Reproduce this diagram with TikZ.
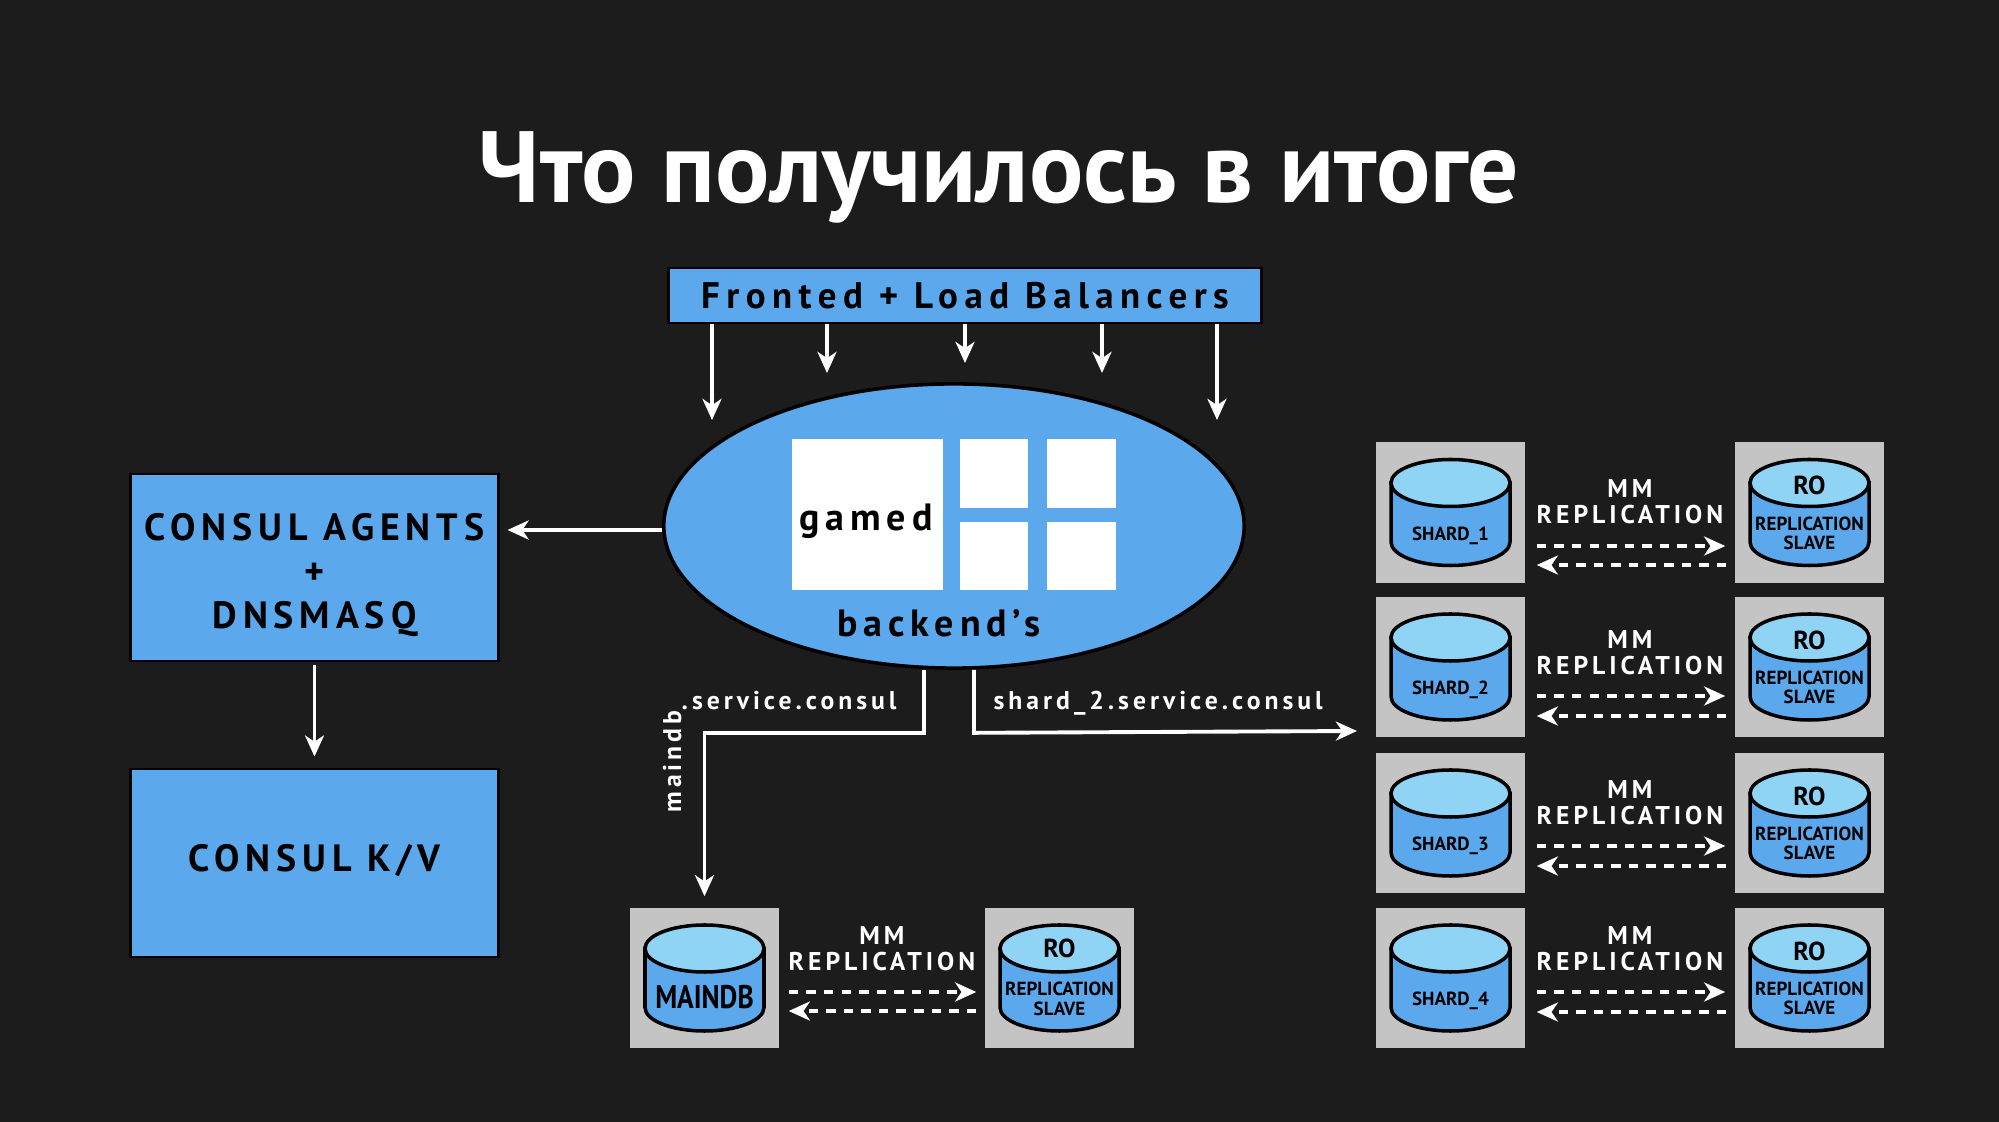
\documentclass[tikz,border=0pt]{standalone}
\usepackage{fontspec}
\setmainfont{PT Sans}
\newfontfamily\spaced{PT Sans}[LetterSpace=15.5]
\newfontfamily\wide{PT Sans}[LetterSpace=17.5]
\newfontfamily\narrow{PT Sans}[FakeStretch=0.84]
\usetikzlibrary{arrows.meta,shapes.geometric,positioning}
\definecolor{bgdark}{HTML}{1C1C1C}
\definecolor{boxblue}{HTML}{5BA8EC}
\definecolor{cyltop}{HTML}{8FD4F5}
\definecolor{boxgray}{HTML}{C4C4C4}

\begin{document}
\begin{tikzpicture}[x=0.01cm,y=-0.01cm]
\tikzstyle{every node}+=[inner sep=0pt]
\tikzstyle{bluebox}=[draw=black,fill=boxblue,line width=0.8pt]
\tikzstyle{graybox}=[fill=boxgray,minimum width=1.49cm,minimum height=1.40cm]
\tikzstyle{wsq}=[fill=white]
\tikzset{dbcyl/.pic={
  \draw [black,line width=1pt,fill=boxblue] (-59.5,-29.5) -- (-59.5,29.5)
    arc [start angle=180,end angle=0,x radius=59.5,y radius=23.5] -- (59.5,-29.5) -- cycle;
  \draw [black,line width=1pt,fill=cyltop] (0,-29.5) ellipse [x radius=59.5,y radius=23.5];
}}
\tikzstyle{warrow}=[draw=white,line width=1.1pt,-{Stealth[length=6pt,width=5.4pt,inset=1.8pt]}]
\tikzstyle{dasharrow}=[warrow,line width=1.3pt,dash pattern=on 2.7pt off 2.3pt]
\tikzstyle{boxtext}=[font=\spaced\bfseries\fontsize{10.8}{12.6}\selectfont,align=center]
\tikzstyle{wtext}=[text=white,font=\spaced\bfseries\fontsize{7.3}{7.7}\selectfont]
\tikzstyle{cyltext}=[font=\bfseries\fontsize{5.4}{6}\selectfont]
\tikzstyle{rotext}=[font=\bfseries\fontsize{7.4}{8}\selectfont]

\fill [bgdark] (0,0) rectangle (1999,1122);
\node [text=white,anchor=base,font=\bfseries\fontsize{28.8}{34}\selectfont] (title) at (999,203) {Что получилось в итоге};

% front and backend
\node [bluebox,minimum width=5.92cm,minimum height=0.55cm,font=\wide\bfseries\fontsize{10.5}{12}\selectfont] (front) at (965,295.5) {Fronted + Load Balancers};
\node [ellipse,draw=black,line width=1pt,fill=boxblue,minimum width=5.8cm,minimum height=2.84cm] (backend) at (954,526) {};
\node [wsq,minimum size=1.51cm] (gamed) at (867.5,514.5) {};
\node [wsq,minimum size=0.685cm] (sq1) at (994,473.5) {};
\node [wsq,minimum size=0.685cm] (sq2) at (1081.5,473.5) {};
\node [wsq,minimum size=0.685cm] (sq3) at (994,556) {};
\node [wsq,minimum size=0.685cm] (sq4) at (1081.5,556) {};
\node [boxtext,anchor=base] (gamedtxt) at (866,531) {gamed};
\node [boxtext,anchor=base] (backtxt) at (939,637) {backend’s};
\coordinate (f1) at (712,420);
\coordinate (f2) at (827,373);
\coordinate (f3) at (965,363);
\coordinate (f4) at (1102,373);
\coordinate (f5) at (1217,420);
\draw [warrow] (f1 |- front.south) -- (f1);
\draw [warrow] (f2 |- front.south) -- (f2);
\draw [warrow] (f3 |- front.south) -- (f3);
\draw [warrow] (f4 |- front.south) -- (f4);
\draw [warrow] (f5 |- front.south) -- (f5);

% consul
\node [bluebox,minimum width=3.67cm,minimum height=1.87cm] (agents) at (314.5,567.5) {};
\node [boxtext] (agentstxt) at ([yshift=-0.075cm]agents.center) {CONSUL AGENTS\\+\\DNSMASQ};
\node [bluebox,minimum width=3.67cm,minimum height=1.88cm] (kv) at (314.5,863) {};
\node [boxtext] (kvtxt) at ([yshift=0.025cm]kv.center) {CONSUL K/V};
\draw [warrow,shorten >=0.08cm] ([yshift=-0.04cm]backend.west) -- ([yshift=-0.04cm]backend.west -| agents.east);
\draw [warrow,shorten >=0.11cm,shorten <=0.03cm] (agents.south) -- (kv.north);

% maindb
\node [graybox] (mainbox) at (704.5,978) {};
\node [graybox] (rom) at (1059.5,978) {};
\pic at (mainbox.center) {dbcyl};
\pic at (rom.center) {dbcyl};
\node [anchor=base,font=\narrow\bfseries\fontsize{9.3}{10}\selectfont] (maintxt) at ([yshift=-0.3cm]mainbox.center) {MAINDB};
\node [rotext,anchor=base] (romro) at ([yshift=0.2cm]rom.center) {RO};
\node [cyltext,anchor=base] (romrep) at ([yshift=-0.17cm]rom.center) {REPLICATION};
\node [cyltext,anchor=base] (romsl) at ([yshift=-0.37cm]rom.center) {SLAVE};
\node [wtext,anchor=base] at (882,945) {MM};
\node [wtext,anchor=base] at (882,971) {REPLICATION};
\draw [dasharrow,shorten <=0.09cm,shorten >=0.08cm] ([yshift=-0.14cm]mainbox.east) -- ([yshift=-0.14cm]rom.west);
\draw [dasharrow,shorten <=0.08cm,shorten >=0.09cm] ([yshift=-0.33cm]rom.west) -- ([yshift=-0.33cm]mainbox.east);
\draw [warrow,shorten >=0.11cm] ([xshift=-0.3cm]backend.south) -- ++(0,63) -| (mainbox.north);
\node [wtext,anchor=base west] (svc) at (681,710) {.service.consul};
\node [wtext,anchor=base east,rotate=90] (mdb) at (681,710) {maindb};

% shards
\coordinate (shardin) at (1357,731);
\draw [warrow] ([xshift=0.2cm]backend.south) -- ++(0,63) -- (shardin);
\node [wtext,anchor=base west] (svc2) at (993,710) {shard\_2.service.consul};

\node [graybox] (sh1) at (1450.5,512.5) {};
\node [graybox] (ro1) at (1809.5,512.5) {};
\node [graybox] (sh2) at (1450.5,667) {};
\node [graybox] (ro2) at (1809.5,667) {};
\node [graybox] (sh3) at (1450.5,823) {};
\node [graybox] (ro3) at (1809.5,823) {};
\node [graybox] (sh4) at (1450.5,978) {};
\node [graybox] (ro4) at (1809.5,978) {};
\pic at (sh1.center) {dbcyl};
\pic at (ro1.center) {dbcyl};
\pic at (sh2.center) {dbcyl};
\pic at (ro2.center) {dbcyl};
\pic at (sh3.center) {dbcyl};
\pic at (ro3.center) {dbcyl};
\pic at (sh4.center) {dbcyl};
\pic at (ro4.center) {dbcyl};
\node [cyltext,anchor=base] at ([yshift=-0.275cm]sh1.center) {SHARD\_1};
\node [cyltext,anchor=base] at ([yshift=-0.275cm]sh2.center) {SHARD\_2};
\node [cyltext,anchor=base] at ([yshift=-0.275cm]sh3.center) {SHARD\_3};
\node [cyltext,anchor=base] at ([yshift=-0.275cm]sh4.center) {SHARD\_4};
\node [rotext,anchor=base] at ([yshift=0.175cm]ro1.center) {RO};
\node [cyltext,anchor=base] at ([yshift=-0.175cm]ro1.center) {REPLICATION};
\node [cyltext,anchor=base] at ([yshift=-0.365cm]ro1.center) {SLAVE};
\node [rotext,anchor=base] at ([yshift=0.175cm]ro2.center) {RO};
\node [cyltext,anchor=base] at ([yshift=-0.175cm]ro2.center) {REPLICATION};
\node [cyltext,anchor=base] at ([yshift=-0.365cm]ro2.center) {SLAVE};
\node [rotext,anchor=base] at ([yshift=0.175cm]ro3.center) {RO};
\node [cyltext,anchor=base] at ([yshift=-0.175cm]ro3.center) {REPLICATION};
\node [cyltext,anchor=base] at ([yshift=-0.365cm]ro3.center) {SLAVE};
\node [rotext,anchor=base] at ([yshift=0.175cm]ro4.center) {RO};
\node [cyltext,anchor=base] at ([yshift=-0.175cm]ro4.center) {REPLICATION};
\node [cyltext,anchor=base] at ([yshift=-0.365cm]ro4.center) {SLAVE};

\node [wtext,anchor=base] at (1630,498) {MM};
\node [wtext,anchor=base] at (1630,524) {REPLICATION};
\draw [dasharrow,shorten <=0.11cm,shorten >=0.09cm] ([yshift=-0.335cm]sh1.east) -- ([yshift=-0.335cm]ro1.west);
\draw [dasharrow,shorten <=0.08cm,shorten >=0.11cm] ([yshift=-0.525cm]ro1.west) -- ([yshift=-0.525cm]sh1.east);
\node [wtext,anchor=base] at (1630,649) {MM};
\node [wtext,anchor=base] at (1630,675) {REPLICATION};
\draw [dasharrow,shorten <=0.11cm,shorten >=0.09cm] ([yshift=-0.29cm]sh2.east) -- ([yshift=-0.29cm]ro2.west);
\draw [dasharrow,shorten <=0.08cm,shorten >=0.11cm] ([yshift=-0.49cm]ro2.west) -- ([yshift=-0.49cm]sh2.east);
\node [wtext,anchor=base] at (1630,799) {MM};
\node [wtext,anchor=base] at (1630,825) {REPLICATION};
\draw [dasharrow,shorten <=0.11cm,shorten >=0.09cm] ([yshift=-0.23cm]sh3.east) -- ([yshift=-0.23cm]ro3.west);
\draw [dasharrow,shorten <=0.08cm,shorten >=0.11cm] ([yshift=-0.43cm]ro3.west) -- ([yshift=-0.43cm]sh3.east);
\node [wtext,anchor=base] at (1630,945) {MM};
\node [wtext,anchor=base] at (1630,971) {REPLICATION};
\draw [dasharrow,shorten <=0.11cm,shorten >=0.09cm] ([yshift=-0.14cm]sh4.east) -- ([yshift=-0.14cm]ro4.west);
\draw [dasharrow,shorten <=0.08cm,shorten >=0.11cm] ([yshift=-0.34cm]ro4.west) -- ([yshift=-0.34cm]sh4.east);
\end{tikzpicture}
\end{document}
